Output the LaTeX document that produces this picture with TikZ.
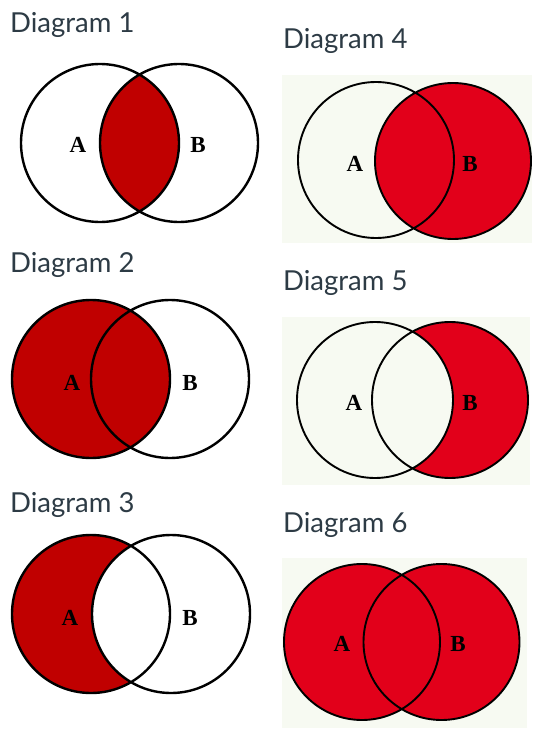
\documentclass[tikz,border=0pt]{standalone}
\usepackage{fontspec}
\setmainfont{Liberation Serif}
\newfontfamily\titlefont{Lato}
\begin{document}
\begin{tikzpicture}[x=1pt,y=-1pt,
  title/.style={anchor=base west,inner sep=0pt,font=\titlefont\fontsize{27.5}{30}\selectfont,text=titlecol},
  lbl/.style={inner sep=0pt,font=\bfseries\fontsize{23}{25}\selectfont},
  ringA/.style={draw=black,line width=2.4pt},
  ringB/.style={draw=black,line width=1.9pt},
  photo/.style={fill=photobg,draw=none}]
\definecolor{titlecol}{RGB}{45,59,69}
\definecolor{darkred}{RGB}{192,0,0}
\definecolor{brightred}{RGB}{226,0,26}
\definecolor{photobg}{RGB}{247,250,242}
\useasboundingbox (0,0) rectangle (547,733);
\fill[white] (0,0) rectangle (547,733);
% ---------- Diagram 1 ----------
\node[title] (t1) at (10,33) {Diagram 1};
\coordinate (a1) at (100,143); \coordinate (b1) at (179,143);
\begin{scope}
  \clip (a1) circle[radius=79];
  \fill[darkred] (b1) circle[radius=79];
\end{scope}
\draw[ringA] (a1) circle[radius=79] (b1) circle[radius=79];
\node[lbl] (la1) at (78,145) {A};
\node[lbl] (lb1) at (198,145) {B};
% ---------- Diagram 2 ----------
\node[title] (t2) at (10,272) {Diagram 2};
\coordinate (a2) at (91,379); \coordinate (b2) at (170,379);
\fill[darkred] (a2) circle[radius=79];
\draw[ringA] (a2) circle[radius=79] (b2) circle[radius=79];
\node[lbl] (la2) at (72,383) {A};
\node[lbl] (lb2) at (190,383) {B};
% ---------- Diagram 3 ----------
\node[title] (t3) at (10,512) {Diagram 3};
\coordinate (a3) at (91,614); \coordinate (b3) at (171,614);
\fill[darkred] (a3) circle[radius=79];
\fill[white] (b3) circle[radius=79];
\draw[ringA] (a3) circle[radius=79] (b3) circle[radius=79];
\node[lbl] (la3) at (70,618) {A};
\node[lbl] (lb3) at (190,618) {B};
% ---------- Diagram 4 ----------
\node[title] (t4) at (283,49) {Diagram 4};
\fill[photo] (282,75) rectangle (532,243);
\coordinate (a4) at (376,160); \coordinate (b4) at (453,161);
\fill[brightred] (b4) circle[radius=78];
\draw[ringB] (a4) circle[radius=78] (b4) circle[radius=78];
\node[lbl] (la4) at (355,164) {A};
\node[lbl] (lb4) at (470,164) {B};
% ---------- Diagram 5 ----------
\node[title] (t5) at (283,290) {Diagram 5};
\fill[photo] (282,317) rectangle (530,485);
\coordinate (a5) at (375,400); \coordinate (b5) at (450,400);
\fill[brightred] (b5) circle[radius=78];
\fill[photobg] (a5) circle[radius=78];
\draw[ringB] (a5) circle[radius=78] (b5) circle[radius=78];
\node[lbl] (la5) at (354,403) {A};
\node[lbl] (lb5) at (470,403) {B};
% ---------- Diagram 6 ----------
\node[title] (t6) at (283,532) {Diagram 6};
\fill[photo] (282,558) rectangle (527,728);
\coordinate (a6) at (362,642); \coordinate (b6) at (441.5,642);
\fill[brightred] (a6) circle[radius=78] (b6) circle[radius=78];
\draw[ringB] (a6) circle[radius=78] (b6) circle[radius=78];
\node[lbl] (la6) at (342,644) {A};
\node[lbl] (lb6) at (458,644) {B};
\end{tikzpicture}
\end{document}
